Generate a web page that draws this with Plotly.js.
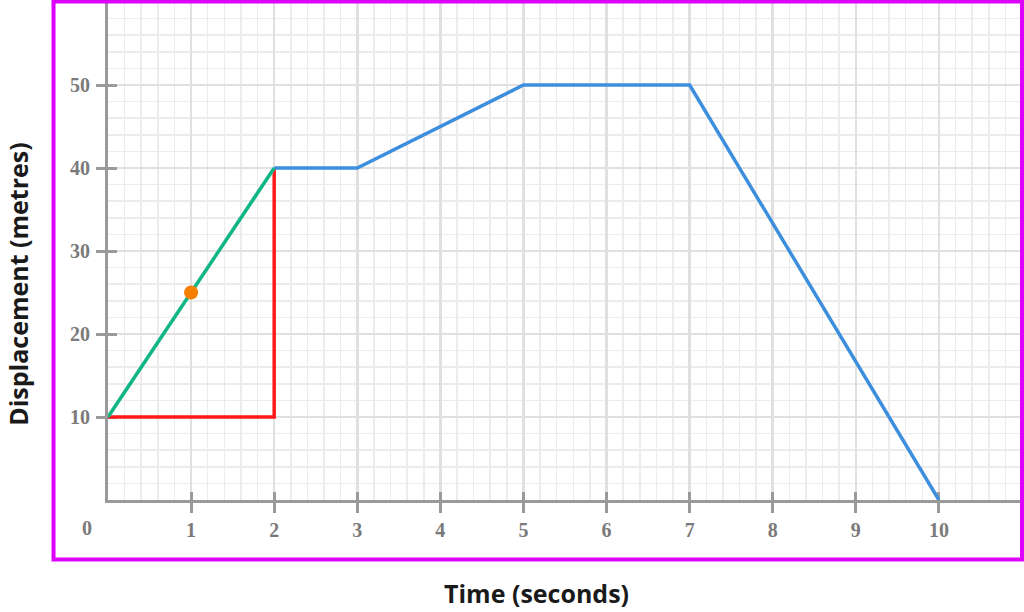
<!DOCTYPE html>
<html>
<head>
<meta charset="utf-8">
<script src="https://cdn.plot.ly/plotly-3.0.1.min.js"></script>
<style>
  html, body { margin: 0; padding: 0; background: #fff; }
  #chart { width: 1024px; height: 612px; }
</style>
</head>
<body>
<div id="chart"></div>
<script>
// journey segments (time in s, displacement in m)
var journeyT = [2, 3, 5, 7, 10];
var journeyD = [40, 40, 50, 50, 0];
var gradientT = [0, 2];
var gradientD = [10, 40];
var triangleT = [0, 2, 2];
var triangleD = [10, 10, 40];
var pointT = [1];
var pointD = [25];
var xTicks = [1, 2, 3, 4, 5, 6, 7, 8, 9, 10];
var yTicks = [10, 20, 30, 40, 50];

var grey = '#9a9a9a';
var tickFont = { family: 'Liberation Serif, serif', size: 20, color: '#7a7a7a' };
var titleFont = { family: 'Open Sans, sans-serif', size: 25, color: '#1a1a1a', weight: 'bold' };

var data = [
    { x: triangleT, y: triangleD, mode: 'lines', line: { color: '#ff1a1a', width: 3.5 } },
    { x: journeyT, y: journeyD, mode: 'lines', line: { color: '#3d8fde', width: 3.5 } },
    { x: gradientT, y: gradientD, mode: 'lines', line: { color: '#10b585', width: 3.5 } },
    { x: pointT, y: pointD, mode: 'markers', marker: { color: '#f57f00', size: 14 } },
    // empty trace so the overlay axes (inner half of the tick marks) get drawn
    { x: [], y: [], xaxis: 'x2', yaxis: 'y2', mode: 'markers' }
];

var layout = {
    width: 1024,
    height: 612,
    showlegend: false,
    paper_bgcolor: '#fff',
    plot_bgcolor: '#fff',
    margin: { l: 108, r: 2, t: 2, b: 112 },
    xaxis: {
        range: [0, 11],
        tickvals: xTicks,
        ticks: 'outside', ticklen: 10, tickwidth: 3, tickcolor: grey,
        tickfont: tickFont,
        showline: true, linecolor: grey, linewidth: 3,
        gridcolor: '#e0e0e0', gridwidth: 2.5,
        minor: { dtick: 0.2, showgrid: true, gridcolor: '#ececec', gridwidth: 1.5 },
        zeroline: false
    },
    yaxis: {
        range: [0, 60],
        tickvals: yTicks,
        ticks: 'outside', ticklen: 9, tickwidth: 3, tickcolor: grey,
        tickfont: tickFont,
        ticklabelstandoff: 2,
        showline: true, linecolor: grey, linewidth: 3,
        gridcolor: '#e0e0e0', gridwidth: 2.5,
        minor: { dtick: 2, showgrid: true, gridcolor: '#ececec', gridwidth: 1.5 },
        zeroline: false
    },
    xaxis2: {
        overlaying: 'x', anchor: 'y', range: [0, 11], tickvals: xTicks, layer: 'below traces',
        ticks: 'inside', ticklen: 8, tickwidth: 3, tickcolor: grey,
        showticklabels: false, showgrid: false, zeroline: false, showline: false
    },
    yaxis2: {
        overlaying: 'y', anchor: 'x', range: [0, 60], tickvals: yTicks, layer: 'below traces',
        ticks: 'inside', ticklen: 9, tickwidth: 3, tickcolor: grey,
        showticklabels: false, showgrid: false, zeroline: false, showline: false
    },
    annotations: [
        { text: '<b>0</b>', xref: 'paper', yref: 'paper', x: -0.023, y: -0.056, showarrow: false,
          font: tickFont, xanchor: 'center', yanchor: 'middle' },
        // axis titles sit off-centre in the original, so they are placed as annotations
        { text: 'Time (seconds)', xref: 'paper', yref: 'paper', x: 0.469, y: -0.1867, showarrow: false,
          font: titleFont, xanchor: 'center', yanchor: 'middle' },
        { text: 'Displacement (metres)', xref: 'paper', yref: 'paper', x: -0.0985, y: 0.434, showarrow: false,
          textangle: -90, font: titleFont, xanchor: 'center', yanchor: 'middle' }
    ],
    shapes: [
        { type: 'rect', xref: 'paper', yref: 'paper', x0: -0.0596, x1: 1.0, y0: -0.1195, y1: 1.001,
          line: { color: '#dd00ff', width: 4 }, fillcolor: 'rgba(0,0,0,0)' }
    ]
};

// bold serif tick labels
layout.xaxis.ticktext = xTicks.map(function(v) { return '<b>' + v + '</b>'; });
layout.yaxis.ticktext = yTicks.map(function(v) { return '<b>' + v + '</b>'; });

Plotly.newPlot('chart', data, layout, { displayModeBar: false, staticPlot: true });
</script>
</body>
</html>
